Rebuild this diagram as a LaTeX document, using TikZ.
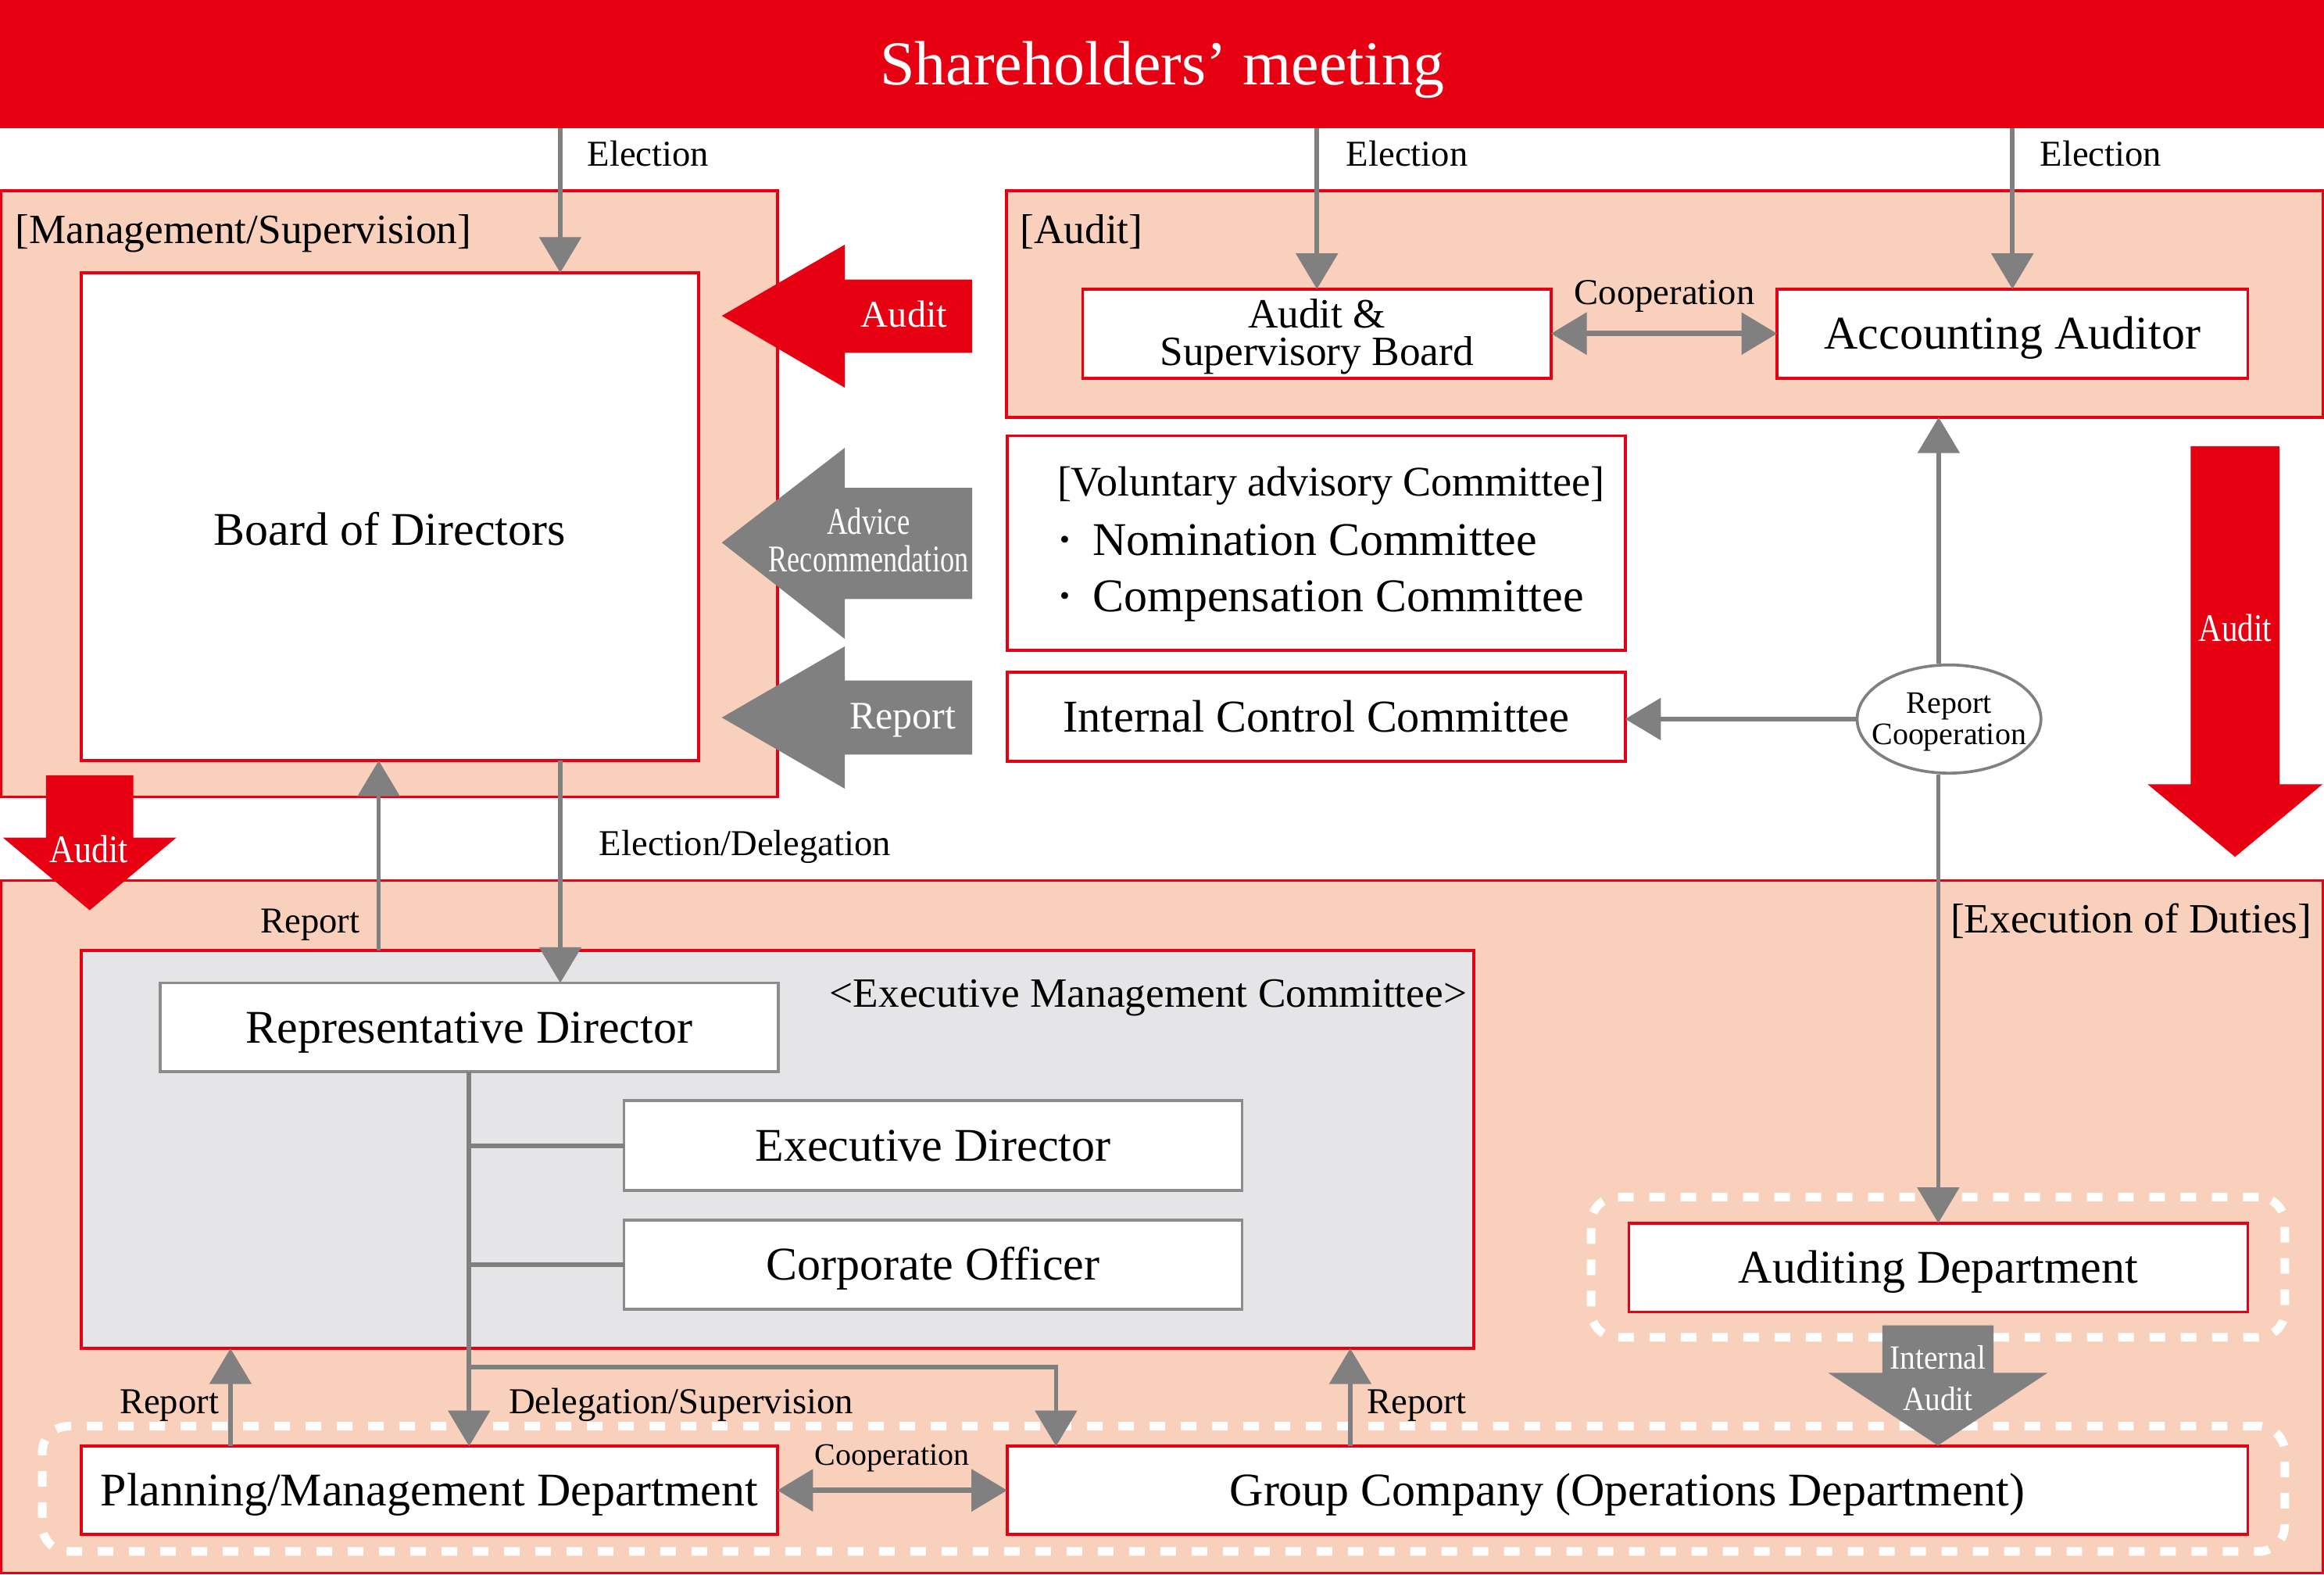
\documentclass[tikz,border=0pt]{standalone}
\usepackage{fontspec}
\usepackage{graphicx}
\setmainfont{Liberation Serif}
\usetikzlibrary{arrows.meta,shapes.geometric}
\definecolor{cred}{HTML}{E60012}
\definecolor{cpeach}{HTML}{F8D0BB}
\definecolor{cgray}{HTML}{808080}
\definecolor{cemc}{HTML}{E5E5E7}
\definecolor{cbord}{HTML}{8C8C8C}
\newcommand{\fs}[2]{\fontsize{#1}{#2}\selectfont}
\newcommand{\bx}[7]{\node[#6, minimum width={(#4-#2)*0.02cm}, minimum height={(#5-#3)*0.02cm}] (#1) at ({(#2+#4)/2},{(#3+#5)/2}) {#7};}
\newcommand{\dotb}{\makebox[13.7pt][l]{\hspace{0.9pt}\raisebox{2.4pt}{\fs{11pt}{11pt}\textbullet}}}
\begin{document}
\begin{tikzpicture}[x=0.02cm,y=-0.02cm,
 f24/.style={font=\fs{24pt}{26pt},text height=16pt,text depth=0pt},
 f18/.style={font=\fs{18pt}{20pt},text height=12pt,text depth=0pt},
 f175/.style={font=\fs{17.5pt}{20pt},text height=11.7pt,text depth=0pt},
 f16/.style={font=\fs{16pt}{18pt},text height=10.7pt,text depth=0pt},
 f15/.style={font=\fs{15pt}{17pt},text height=10pt,text depth=0pt},
 f145/.style={font=\fs{14.5pt}{16pt},text height=9.7pt,text depth=0pt},
 f14/.style={font=\fs{14pt}{16pt},text height=9.4pt,text depth=0pt},
 f13/.style={font=\fs{13pt}{15pt},text height=8.7pt,text depth=0pt},
 f12/.style={font=\fs{12pt}{14pt},text height=8pt,text depth=0pt},
 conn/.style={draw=cgray,line width=1.7pt},
 conn2/.style={draw=cgray,line width=2pt},
 arr/.style={arrows={-Triangle[length=13.7pt,width=15.9pt]}},
 darr/.style={arrows={Triangle[length=13.7pt,width=15.9pt]-Triangle[length=13.7pt,width=15.9pt]}},
 region/.style={draw=cred,line width=1.1pt,fill=cpeach,inner sep=0pt,outer sep=0pt},
 redbox/.style={draw=cred,line width=1.1pt,fill=white,inner sep=0pt,outer sep=0pt,f18},
 graybox/.style={draw=cbord,line width=1.1pt,fill=white,inner sep=0pt,outer sep=0pt,f18},
 lbl/.style={inner sep=0pt,f14},
 seclbl/.style={inner sep=0pt,f16},
 txt/.style={inner sep=0pt},
 wlbl/.style={inner sep=0pt,text=white},
 dashbox/.style={draw=white,line width=3.3pt,dash pattern=on 6pt off 6pt,rounded corners=10pt,inner sep=0pt,outer sep=0pt}
]
\useasboundingbox (0,0) rectangle (1568,1062);

% top bar
\bx{share}{0}{0}{1568}{86.5}{fill=cred,draw=none,inner sep=0pt,outer sep=0pt}{}
\node[wlbl,f24] (sharet) at (784,43) {Shareholders’ meeting};

% regions
\bx{mgmt}{0.6}{128.5}{524.5}{537.5}{region}{}
\node[seclbl,anchor=west] (mgmtl) at (10,155) {[Management/Supervision]};
\bx{audit}{679}{128.5}{1567.4}{281.5}{region}{}
\node[seclbl,anchor=west] (auditl) at (688,155) {[Audit]};
\bx{exec}{0.6}{594}{1567.4}{1061}{region}{}
\node[seclbl,anchor=east] (execl) at (1560,620) {[Execution of Duties]};

% dashed groups
\bx{dgA}{1073.5}{807.5}{1541.5}{902}{dashbox}{}
\bx{dgB}{28.5}{962}{1541.5}{1046.5}{dashbox}{}

% management boxes
\bx{bod}{55}{184}{471.5}{513}{redbox}{}
\node[txt,f18] (bodt) at (263,357) {Board of Directors};

% audit boxes
\bx{asb}{730.5}{195}{1046.5}{255}{redbox}{}
\node[txt,f16] (asb1) at (888.5,212) {Audit \&};
\node[txt,f16] (asb2) at (888.5,237) {Supervisory Board};
\bx{acc}{1199}{195}{1516.5}{255}{redbox}{Accounting Auditor}

% committees
\bx{vol}{679.5}{294}{1096.5}{438.5}{redbox}{}
\node[txt,anchor=west,font=\fs{16.2pt}{18pt},text height=10.8pt,text depth=0pt] (volt) at (713,325) {[Voluntary advisory Committee]};
\node[txt,anchor=west,f18] (nom) at (713,364) {\dotb Nomination Committee};
\node[txt,anchor=west,f18] (comp) at (713,402) {\dotb Compensation Committee};
\bx{icc}{679.5}{453.5}{1096.5}{513.5}{redbox,f175}{Internal Control Committee}

% ellipse
\node[ellipse,draw=cgray,line width=1.1pt,fill=white,minimum width=124*0.02cm,minimum height=73*0.02cm,inner sep=0pt] (rc) at (1315,485) {};
\node[txt,f12] (rct1) at (1315,474) {Report};
\node[txt,f12] (rct2) at (1315,495) {Cooperation};

% executive
\bx{emc}{55}{641}{994.5}{909.5}{draw=cred,line width=1.1pt,fill=cemc,inner sep=0pt,outer sep=0pt}{}
\node[seclbl,anchor=east] (emcl) at (990,670) {<Executive Management Committee>};
\bx{rep}{108}{663}{525}{723}{graybox}{Representative Director}
\bx{exd}{421}{742.5}{838}{803}{graybox}{Executive Director}
\bx{cof}{421}{823}{838}{883}{graybox}{Corporate Officer}
\bx{plan}{55}{975.5}{524.5}{1035}{redbox}{Planning/Management Department}
\bx{grp}{679.5}{975.5}{1516.5}{1035}{redbox}{Group Company (Operations Department)}
\bx{adep}{1099}{825}{1516.5}{885}{redbox}{Auditing Department}

% election arrows
\coordinate (e1) at (378,86.5);
\draw[conn,arr] (e1) -- (e1 |- bod.north);
\draw[conn,arr] (share.south -| asb.north) -- (asb.north);
\draw[conn,arr] (share.south -| acc.north) -- (acc.north);
\node[lbl,anchor=west] (el1) at (396,104) {Election};
\node[lbl,anchor=west] (el2) at (908,104) {Election};
\node[lbl,anchor=west] (el3) at (1376,104) {Election};

% cooperation audit
\draw[conn2,darr] (asb.east) -- (acc.west);
\node[lbl] (coop1) at (1123,197) {Cooperation};

% ellipse connectors
\draw[conn,arr] (rc.west) -- (rc.west -| icc.east);
\coordinate (rcup) at (1308,281.5);
\draw[conn,arr] (rc.north -| rcup) -- (rcup);
\draw[conn,arr] (rc.south -| adep.north) -- (adep.north);

% board <-> executive
\coordinate (rp1) at (255.5,641);
\draw[conn,arr] (rp1) -- (rp1 |- bod.south);
\node[lbl,anchor=east] (rp1l) at (243,621) {Report};
\draw[conn,arr] (bod.south -| e1) -- (rep.north -| e1);
\node[lbl,anchor=west] (edl) at (404,569) {Election/Delegation};

% tree
\coordinate (trx) at (316.5,723);
\draw[conn,arr] (trx) -- (plan.north -| trx);
\draw[conn] (exd.west -| trx) -- (exd.west);
\draw[conn] (cof.west -| trx) -- (cof.west);
\coordinate (gx) at (712.5,922);
\draw[conn,arr] (trx |- gx) -- (gx) -- (gx |- grp.north);
\node[lbl,anchor=west] (dsl) at (343,945) {Delegation/Supervision};

% bottom reports
\coordinate (rp2) at (155.5,975.5);
\draw[conn,arr] (rp2) -- (rp2 |- emc.south);
\node[lbl,anchor=east] (rp2l) at (148,945) {Report};
\coordinate (rp3) at (911,975.5);
\draw[conn,arr] (rp3) -- (rp3 |- emc.south);
\node[lbl,anchor=west] (rp3l) at (922,945) {Report};

% cooperation bottom
\draw[conn2,darr] (plan.east) -- (grp.west);
\node[txt,f12] (coop2) at (602,981) {Cooperation};

% block arrows
\fill[cred] (487,213) -- (570,165) -- (570,188.5) -- (656,188.5) -- (656,238) -- (570,238) -- (570,261.5) -- cycle;
\node[wlbl,f145] (ba1) at (610,212) {Audit};
\fill[cgray] (487,366) -- (570,302) -- (570,329) -- (656,329) -- (656,404) -- (570,404) -- (570,431) -- cycle;
\node[wlbl,f145] (ba2a) at (586,352) {\scalebox{0.76}[1]{Advice}};
\node[wlbl,f145] (ba2b) at (586,377) {\scalebox{0.75}[1]{Recommendation}};
\fill[cgray] (487,484) -- (570,436) -- (570,459) -- (656,459) -- (656,509) -- (570,509) -- (570,532) -- cycle;
\node[wlbl,f15] (ba3) at (609,483) {Report};
\fill[cred] (1478,301) -- (1538,301) -- (1538,529) -- (1567,529) -- (1508,578) -- (1449,529) -- (1478,529) -- cycle;
\node[wlbl,f15] (ba4) at (1508,424) {\scalebox{0.82}[1]{Audit}};
\fill[cred] (31,523) -- (90,523) -- (90,565) -- (119,565) -- (60.5,614) -- (2,565) -- (31,565) -- cycle;
\node[wlbl,f15] (ba5) at (60,573) {\scalebox{0.88}[1]{Audit}};
\fill[cgray] (1270,894) -- (1345,894) -- (1345,926) -- (1381.5,926) -- (1307.5,975) -- (1233.5,926) -- (1270,926) -- cycle;
\node[wlbl,f13] (ba6a) at (1307.5,916) {\scalebox{0.91}[1]{Internal}};
\node[wlbl,f13] (ba6b) at (1307.5,943.5) {\scalebox{0.91}[1]{Audit}};
\end{tikzpicture}
\end{document}
